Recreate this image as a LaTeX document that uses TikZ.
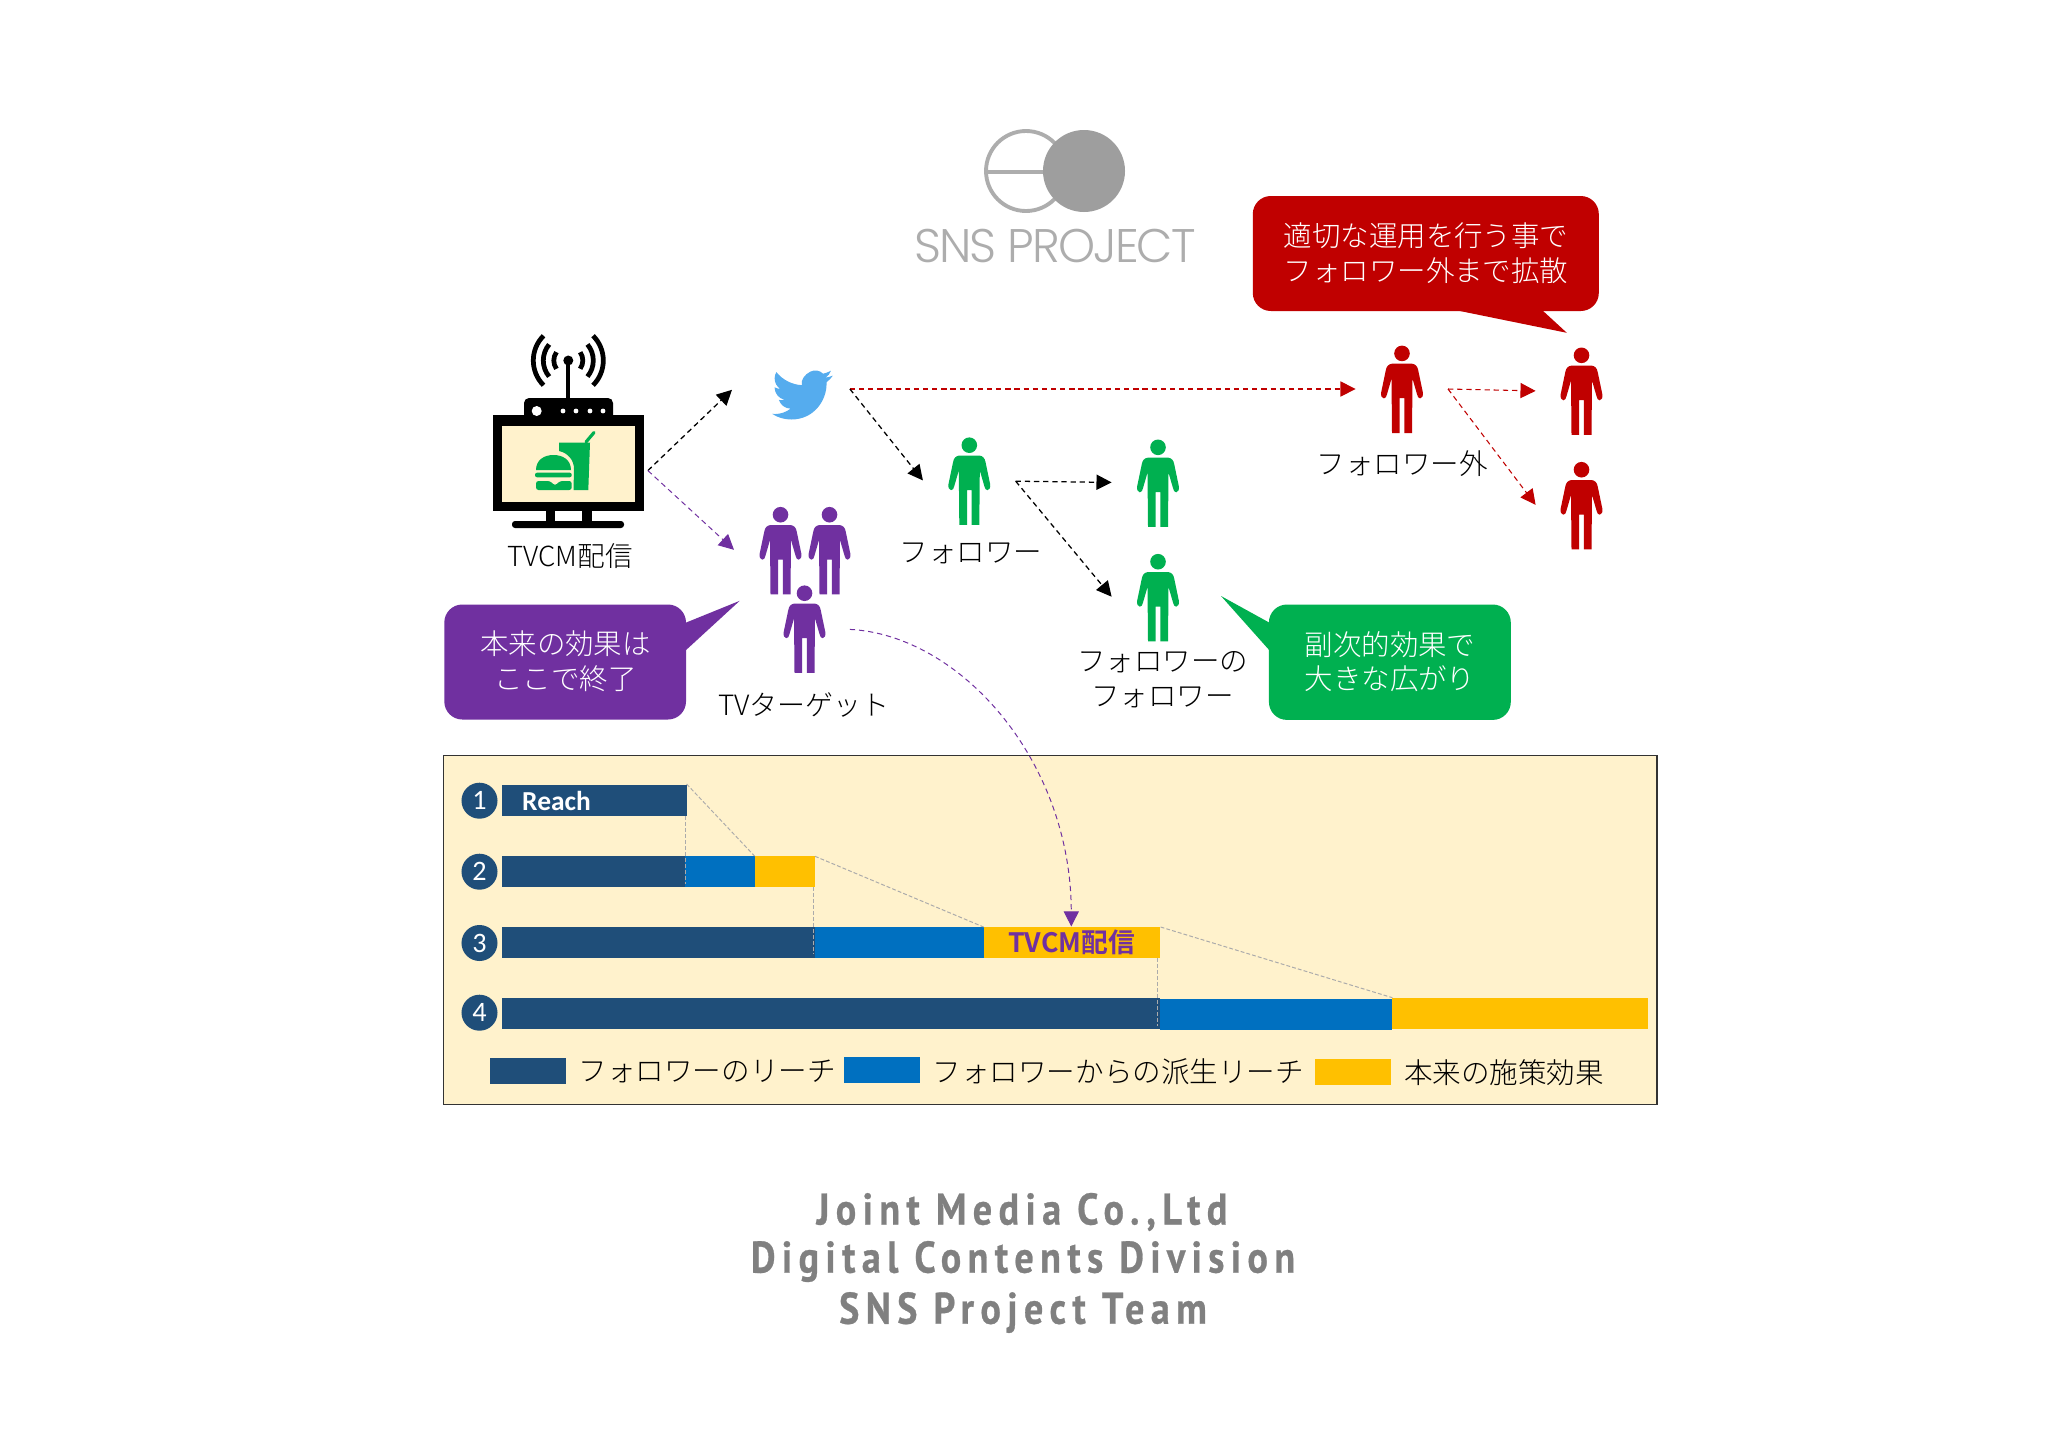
\documentclass[tikz,border=0pt]{standalone}
\usepackage{fontspec}
\usetikzlibrary{arrows.meta}
\setmainfont{Noto Sans CJK JP Light}[BoldFont={Noto Sans CJK JP Bold}]
\newfontfamily\logofont{Poppins Light}[LetterSpace=-4]
\newfontfamily\teamfont{PT Sans Bold}[FakeStretch=0.86,LetterSpace=14.5,FakeBold=0.6]
\newfontfamily\reachfont{Carlito Bold}
\newfontfamily\numfont{Carlito}
\definecolor{navy}{HTML}{1F4E79}
\definecolor{midblue}{HTML}{0070C0}
\definecolor{amber}{HTML}{FFC000}
\definecolor{vio}{HTML}{7030A0}
\definecolor{crim}{HTML}{C00000}
\definecolor{leaf}{HTML}{00B050}
\definecolor{cream}{HTML}{FFF2CC}
\definecolor{birdblue}{HTML}{55ACEE}
\definecolor{logogray}{HTML}{9E9E9E}
\definecolor{guidegray}{HTML}{ABABAB}
\tikzset{
  personfig/.pic={
    \fill[pic actions] (0,7.7) circle[radius=7.8];
    \fill[pic actions] (-10,18) .. controls (-13.5,18.5) and (-15.5,20.5) .. (-16.2,24.5)
      -- (-20.8,46.5) .. controls (-21.5,50) and (-20,52.7) .. (-18.2,52.7)
      .. controls (-16.5,52.7) and (-15.5,51) .. (-15,48.5) -- (-10.5,33) -- (-10,87.3)
      -- (-2.3,87.3) -- (-2.3,52.5) -- (2.3,52.5) -- (2.3,87.3) -- (10,87.3) -- (10.5,33)
      -- (15,48.5) .. controls (15.5,51) and (16.5,52.7) .. (18.2,52.7)
      .. controls (20,52.7) and (21.5,50) .. (20.8,46.5) -- (16.2,24.5)
      .. controls (15.5,20.5) and (13.5,18.5) .. (10,18) -- cycle;
  },
  lab/.style={font=\fontsize{8.1}{9.82}\selectfont, text=black, inner sep=0pt, align=center},
  calltext/.style={font=\fontsize{8.1}{9.82}\selectfont, text=white, inner sep=0pt, align=center},
  legendtext/.style={font=\fontsize{8.12}{9.82}\selectfont, text=black, inner sep=0pt, anchor=west},
  arrowbase/.style={line width=0.36pt, dash pattern=on 1.5pt off 1.1pt, -{Triangle[length=4.3pt,width=4.3pt]}},
  blackarrow/.style={arrowbase, draw=black},
  redarrow/.style={arrowbase, draw=crim, line width=0.3pt},
  vioarrow/.style={arrowbase, draw=vio, line width=0.28pt},
  guide/.style={draw=guidegray, line width=0.28pt, dash pattern=on 1.1pt off 0.6pt},
  numdisc/.style={circle, fill=navy, text=white, minimum size=36*0.2845pt, inner sep=0pt, font=\numfont\fontsize{8}{9}\selectfont},
  tvpart/.style={fill=black},
  burger/.style={fill=leaf},
  teamtext/.style={inner sep=0pt,text=black!50,font=\teamfont\fontsize{12.6}{14}\selectfont},
}
\begin{document}
\begin{tikzpicture}[x=0.01cm,y=-0.01cm]
\useasboundingbox (0,0) rectangle (2048,1448);
\fill[white] (0,0) rectangle (2048,1448);

% logo
\draw[logogray!85,line width=1.1pt] (1026,171) circle[radius=40];
\draw[logogray!85,line width=1.1pt] (986,172) -- (1045,172);
\fill[logogray] (1084,171) circle[radius=41];
\node[inner sep=0pt,text=logogray!85,font=\logofont\fontsize{13.4}{16}\selectfont] (logotext) at (1055,246) {SNS PROJECT};

% TV
\fill[tvpart] (492.7,415) rectangle (644,510.7);
\fill[cream] (502,425.7) rectangle (635,501.7);
\fill[tvpart] (545.7,510) rectangle (555,523);
\fill[tvpart] (581.7,510) rectangle (591.7,523);
\fill[tvpart,rounded corners=0.03cm] (512,521) rectangle (624,528);
\fill[tvpart,rounded corners=0.05cm] (524,398) rectangle (613,420);
\fill[white] (536.7,411) circle[radius=5];
\foreach \dx in {563,576,590,603} \fill[white] (\dx,411) circle[radius=2.4];
\draw[line width=1.2pt] (568.3,360.5) -- (568.3,398);
\fill (568.3,360.5) circle[radius=5];
\foreach \rr/\aa in {14.5/35,25/40,35/45}{
  \draw[line width=1.35pt] ([shift={(568.3,360.5)}]-\aa:\rr) arc[start angle=-\aa,end angle=\aa,radius=\rr];
  \draw[line width=1.35pt] ([shift={(568.3,360.5)}]180-\aa:\rr) arc[start angle=180-\aa,end angle=180+\aa,radius=\rr];
}
% burger and drink
\fill[burger] (536,470) .. controls (536,460) and (544,455) .. (553.5,455) .. controls (563,455) and (571,460) .. (571,470) -- cycle;
\fill[burger,rounded corners=0.02cm] (535,472.7) rectangle (571.7,477.3);
\fill[burger,rounded corners=0.025cm] (536,481) -- (550,481) -- (555,485.7) -- (560,481) -- (571.7,481) -- (571.7,490) -- (536,490) -- cycle;
\fill[burger] (559,442.7) -- (590,442.7) -- (588.3,490) -- (573.5,490) -- (574,469) .. controls (574,460) and (568,453) .. (559,451) -- cycle;
\draw[leaf,line width=0.9pt,line cap=round] (586,442) -- (594,432.5);

% twitter bird
\begin{scope}[shift={(772.2,364)},x=0.0252cm,y=-0.0255cm]
\fill[birdblue] (23.953,4.57) .. controls (23.1,4.95) and (22.1,5.2) .. (21.128,5.345)
  .. controls (22.14,4.74) and (22.92,3.78) .. (23.291,2.622)
  .. controls (22.34,3.177) and (21.286,3.581) .. (20.164,3.806)
  .. controls (18.9,2.5) and (16.8,2.1) .. (15.1,3.0)
  .. controls (12.9,4.1) and (11.2,6.3) .. (11.78,8.288)
  .. controls (7.69,8.095) and (4.067,6.13) .. (1.64,3.162)
  .. controls (1.2,3.9) and (0.974,4.75) .. (0.974,5.637)
  .. controls (0.974,7.347) and (1.844,8.85) .. (3.162,9.733)
  .. controls (2.38,9.7) and (1.6,9.5) .. (0.934,9.117)
  -- (0.934,9.177)
  .. controls (0.95,11.5) and (2.6,13.55) .. (4.88,14.004)
  .. controls (4.15,14.2) and (3.4,14.2) .. (2.668,14.089)
  .. controls (3.3,16.05) and (5.15,17.45) .. (7.272,17.506)
  .. controls (5.55,18.85) and (3.4,19.6) .. (1.17,19.611)
  .. controls (0.78,19.611) and (0.391,19.588) .. (0,19.544)
  .. controls (2.2,21.0) and (4.85,21.753) .. (7.557,21.753)
  .. controls (16.61,21.753) and (21.555,14.257) .. (21.555,7.768)
  .. controls (21.555,7.558) and (21.555,7.348) .. (21.54,7.138)
  .. controls (22.5,6.45) and (23.35,5.55) .. (24,4.59) -- cycle;
\end{scope}

% people
\pic[fill=vio] (tgtA) at (780.5,507) {personfig};
\pic[fill=vio] (tgtB) at (829.5,507) {personfig};
\pic[fill=vio] (tgtC) at (804.5,585.5) {personfig};
\pic[fill=leaf] (flw) at (969.3,437.5) {personfig};
\pic[fill=leaf] (flwA) at (1158,439.6) {personfig};
\pic[fill=leaf] (flwB) at (1158,554) {personfig};
\pic[fill=crim] (outA) at (1402,345.7) {personfig};
\pic[fill=crim] (outB) at (1581.5,347.6) {personfig};
\pic[fill=crim] (outC) at (1581.5,462) {personfig};

% labels
\node[lab,font=\fontsize{7.85}{9.82}\selectfont] (ltv) at (570,556) {TVCM配信};
\node[lab] (lflw) at (970.8,553) {フォロワー};
\node[lab,font=\fontsize{7.95}{9.82}\selectfont] (ltgt) at (804,705) {TVターゲット};
\node[lab] (lfof) at (1162.6,679.5) {フォロワーの\\フォロワー};
\node[lab] (lout) at (1402.4,464) {フォロワー外};

% callouts
\fill[crim,rounded corners=0.18cm] (1252.8,196) rectangle (1598.8,311);
\fill[crim] (1455,310) -- (1566.8,332.8) -- (1542,310) -- cycle;
\node[calltext] (cred) at (1426,253) {適切な運用を行う事で\\フォロワー外まで拡散};
\fill[vio,rounded corners=0.18cm] (444.3,604.5) rectangle (686,719.5);
\fill[vio] (685,623) -- (739.7,600.8) -- (685,651) -- cycle;
\node[calltext] (cvio) at (565.5,661) {本来の効果は\\ここで終了};
\fill[leaf,rounded corners=0.18cm] (1268.9,604.5) rectangle (1510.8,719.9);
\fill[leaf] (1270,623) -- (1221,596) -- (1270,651) -- cycle;
\node[calltext] (cgrn) at (1390,661.5) {副次的効果で\\大きな広がり};

% arrow anchors
\coordinate (tvOut) at (647.9,470.6);
\coordinate (birdIn) at (732,389.8);
\coordinate (tgtIn) at (734,549.8);
\coordinate (birdOut) at (849.9,389);
\coordinate (outIn) at (1355.6,389);
\coordinate (flwIn) at (922.9,480.4);
\coordinate (flwOut) at (1015.7,481.2);
\coordinate (flwAIn) at (1111.6,482.4);
\coordinate (flwBIn) at (1111.6,596.7);
\coordinate (outOut) at (1448,389);
\coordinate (outAIn) at (1535.6,390.9);
\coordinate (outBIn) at (1535.6,504.8);
\coordinate (tgtOut) at (849.9,629.4);
\coordinate (barIn) at (1071.3,926.5);

\draw[blackarrow] (tvOut) -- (birdIn);
\draw[vioarrow] (tvOut) -- (tgtIn);
\draw[redarrow] (birdOut) -- (outIn);
\draw[blackarrow] (birdOut) -- (flwIn);
\draw[blackarrow] (flwOut) -- (flwAIn);
\draw[blackarrow] (flwOut) -- (flwBIn);
\draw[redarrow] (outOut) -- (outAIn);
\draw[redarrow] (outOut) -- (outBIn);

\begin{scope}[shift={(0,1)}]
% panel
\draw[fill=cream,draw=black!80,line width=0.5pt] (443.5,754.5) rectangle (1657,1103.5);

% bars
\fill[navy] (502,784) rectangle (686.6,815);
\fill[navy] (502,855.3) rectangle (685,886);
\fill[midblue] (685,855.3) rectangle (754.5,886);
\fill[amber] (754.5,855.3) rectangle (815.2,886);
\fill[navy] (502,926) rectangle (815,957);
\fill[midblue] (815,926) rectangle (984,957);
\fill[amber] (984,926) rectangle (1159.6,957);
\fill[navy] (502,997) rectangle (1159.6,1027.7);
\fill[midblue] (1159.6,998) rectangle (1392.4,1028.7);
\fill[amber] (1392.4,997) rectangle (1647.9,1027.7);

% guides
\coordinate (gA) at (686.6,783);
\coordinate (gB) at (754.5,855);
\coordinate (gC) at (815,855.3);
\coordinate (gD) at (983.6,926);
\coordinate (gE) at (1160.6,926);
\coordinate (gF) at (1392.4,996.7);
\draw[guide] (gA) -- (gB);
\draw[guide] (gC) -- (gD);
\draw[guide] (gE) -- (gF);
\draw[guide] (685,815) -- (685,883);
\draw[guide] (813.7,886) -- (813.7,953);
\draw[guide] (1157.6,957) -- (1157.6,1025);

% numbers
\node[numdisc] (n1) at (479.5,799.7) {1};
\node[numdisc] (n2) at (479.5,870.7) {2};
\node[numdisc] (n3) at (479.5,942) {3};
\node[numdisc] (n4) at (479.5,1011.7) {4};
\node[inner sep=0pt,text=white,font=\reachfont\fontsize{7.8}{9}\selectfont] (reach) at (556.5,800) {Reach};
\node[inner sep=0pt,text=vio,font=\bfseries\fontsize{7.6}{9}\selectfont] (tvbar) at (1071.5,941.7) {TVCM配信};

% legend
\fill[navy] (489.7,1056.7) rectangle (565.7,1082.7);
\node[legendtext] (lg1) at (578,1070) {フォロワーのリーチ};
\fill[midblue] (844.3,1056) rectangle (919.8,1082.3);
\node[legendtext] (lg2) at (932,1071) {フォロワーからの派生リーチ};
\fill[amber] (1315.3,1057.7) rectangle (1391,1084);
\node[legendtext] (lg3) at (1403.5,1071.5) {本来の施策効果};
\end{scope}

% curve
\draw[vioarrow] (tgtOut) .. controls (960,635) and (1071,760) .. (barIn);

% team
\node[teamtext] (t1) at (1022,1212) {Joint Media Co.,Ltd};
\node[teamtext] (t2) at (1023,1261.5) {Digital Contents Division};
\node[teamtext] (t3) at (1023,1312.5) {SNS Project Team};
\end{tikzpicture}
\end{document}
